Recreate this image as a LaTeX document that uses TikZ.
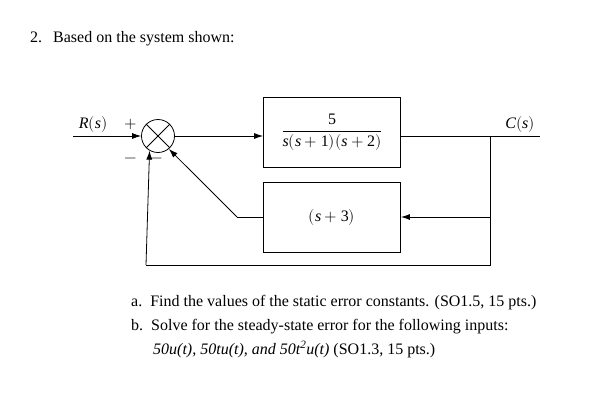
\documentclass[tikz,border=0pt]{standalone}
\usepackage{fontspec}
\setmainfont{Liberation Serif}
\usepackage{unicode-math}
\setmathfont{Latin Modern Math}
\setmathfont[range=it]{Liberation Serif Italic}
\setmathfont[range=up]{Liberation Serif}
\usetikzlibrary{arrows.meta}
\tikzset{
  blk/.style={draw, line width=0.9pt, minimum width=137pt, minimum height=70pt, inner sep=0pt},
  sig/.style={line width=0.8pt, -{Latex[length=9pt,width=6pt]}},
  wire/.style={line width=0.8pt}
}
\begin{document}
\begin{tikzpicture}[x=1pt,y=-1pt,font=\fontsize{16}{19}\selectfont]
  \useasboundingbox (0,0) rectangle (603,416);
  % Heading
  \node[anchor=base west, inner sep=0pt] (num) at (30,42) {2.};
  \node[anchor=base west, inner sep=0pt] (head) at (53,42) {Based on the system shown:};
  % The blocks
  \node[draw, circle, line width=0.8pt, minimum size=33pt, inner sep=0pt] (sum) at (158,136) {};
  \draw[line width=0.8pt] (sum.north west) -- (sum.south east) (sum.north east) -- (sum.south west);
  \node[blk] (plant) at (332,132) {$\dfrac{5}{s(s+1)(s+2)}$};
  \node[blk] (fb) at (332,217) {$(s+3)$};
  \coordinate (rin) at (73,136);
  \coordinate (cout) at (540,136);
  \coordinate (tap) at (490,136);
  \coordinate (tapb) at (490,265);
  \coordinate (bl) at (146,265);
  \coordinate (kink) at (237,217);
  % Connectors
  \draw[sig] (rin) -- (sum);
  \draw[sig] (sum) -- (sum -| plant.west);
  \draw[wire] (sum -| plant.east) -- (cout);
  \draw[sig] (tap |- fb) -- (fb.east);
  \draw[wire] (tap) -- (tapb) -- (bl);
  \draw[sig] (bl) -- (sum.240);
  \draw[wire] (fb.west) -- (kink);
  \draw[sig] (kink) -- (sum.310);
  % Labels
  \node (rlab) at (93,124) {$R(s)$};
  \node (plus) at (131,124) {$+$};
  \node (mina) at (131,160) {$-$};
  \node (minb) at (157,160) {$-$};
  \node (clab) at (520,124) {$C(s)$};
  % Questions
  \node[anchor=base west, inner sep=0pt] (qa) at (131,306) {a.\ \ Find the values of the static error constants. (SO1.5, 15 pts.)};
  \node[anchor=base west, inner sep=0pt] (qb) at (131,330) {b.\ \ Solve for the steady-state error for the following inputs:};
  \node[anchor=base west, inner sep=0pt] (qc) at (153,354) {\textit{50u(t), 50tu(t), and 50t\textsuperscript{2}u(t)} (SO1.3, 15 pts.)};
\end{tikzpicture}
\end{document}
